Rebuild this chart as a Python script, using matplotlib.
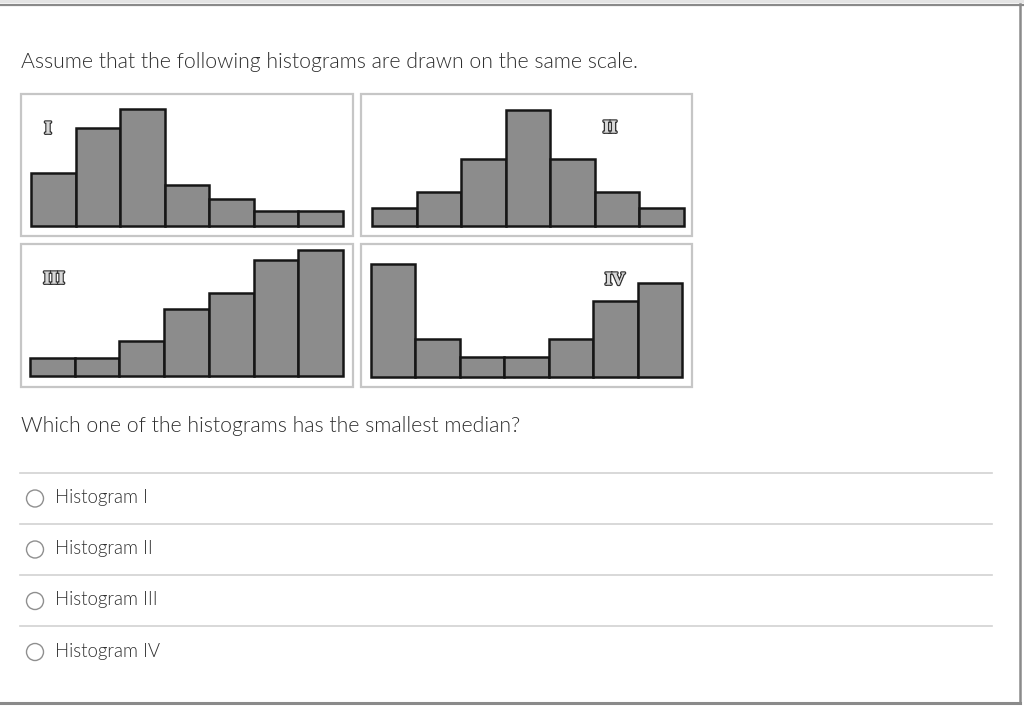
import matplotlib
matplotlib.use("Agg")
import matplotlib.pyplot as plt
import matplotlib.patheffects as pe
from matplotlib.patches import Rectangle, Circle

W, H = 1024, 706

# bar heights (same scale for all four)
hist_I = [53, 98, 117, 41, 27, 15, 15]
hist_II = [18, 34, 67, 116, 67, 34, 18]
hist_III = [18, 18, 35, 67, 83, 116, 126]
hist_IV = [113, 38, 20, 20, 38, 76, 94]
hist_labels = ["I", "II", "III", "IV"]

title = "Assume that the following histograms are drawn on the same scale."
question = "Which one of the histograms has the smallest median?"
choices = ["Histogram I", "Histogram II", "Histogram III", "Histogram IV"]

plt.rcParams['font.family'] = ['Lato', 'DejaVu Sans']

fig = plt.figure(figsize=(W / 100, H / 100), dpi=100)
base = fig.add_axes([0, 0, 1, 1])
base.set_xlim(0, W)
base.set_ylim(H, 0)
base.axis("off")


def px_axes(x0, y0, x1, y1):
    return fig.add_axes([x0 / W, 1 - y1 / H, (x1 - x0) / W, (y1 - y0) / H])


# page frame
base.add_patch(Rectangle((0, 0), W, 3, color="#e4e4e4", lw=0))
base.plot([0, W], [4.5, 4.5], color="#8a8a8a", lw=1.6)
base.plot([1019.5, 1019.5], [4, 703], color="#8a8a8a", lw=1.8)
base.plot([0, 1020], [703, 703], color="#8a8a8a", lw=2.2)

base.text(21, 61.5, title, fontsize=15.35, fontweight=300, color="#2e2e2e",
          va="center", ha="left")

# histogram panels: (box, bar area, label position)
panels = [
    (hist_I, (21, 94, 353, 236), (31, 343, 226), (48, 129)),
    (hist_II, (361, 94, 692, 236), (372, 684, 226), (610, 128)),
    (hist_III, (21, 244, 353, 387), (30, 343, 376), (54, 279)),
    (hist_IV, (361, 244, 692, 387), (371, 682, 377), (615, 280)),
]
top = 135
for (vals, box, bars, lab), name in zip(panels, hist_labels):
    bx0, by0, bx1, by1 = box
    base.add_patch(Rectangle((bx0, by0), bx1 - bx0, by1 - by0, fill=False,
                             edgecolor="#c6c6c6", lw=1.6))
    ax = px_axes(bars[0], bars[2] - top, bars[1], bars[2])
    ax.bar(range(len(vals)), vals, width=1, align="edge", color="#8c8c8c",
           edgecolor="#161616", lw=1.8, clip_on=False)
    ax.set_xlim(0, len(vals))
    ax.set_ylim(0, top)
    ax.axis("off")
    base.text(lab[0], lab[1], name, fontsize=13, family="Liberation Serif",
              fontweight="bold", color="#d8d8d8", ha="center", va="center",
              path_effects=[pe.withStroke(linewidth=2.0, foreground="#333333"),
                            pe.Normal()])

base.text(21, 425.5, question, fontsize=15.35, fontweight=300, color="#2e2e2e",
          va="center", ha="left")

# answer rows
line_y = [472.5, 523.5, 575, 626]
for i, (ly, txt) in enumerate(zip(line_y, choices)):
    base.plot([20, 992], [ly, ly], color="#d2d2d2", lw=1.2)
    cy = ly + 26
    base.add_patch(Circle((35, cy), 8.5, fill=False, edgecolor="#8f8f8f", lw=1.0))
    base.text(55, cy - 1, txt, fontsize=13.4, fontweight=300, color="#2e2e2e",
              va="center", ha="left")

fig.savefig("out.png", dpi=100)
